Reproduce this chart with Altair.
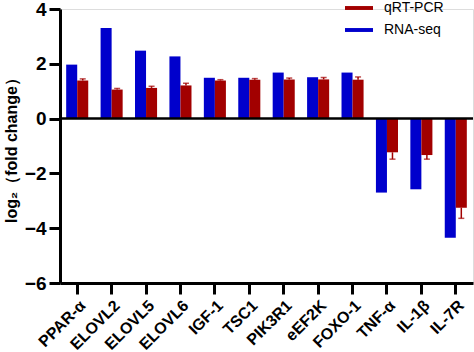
import altair as alt
import pandas as pd

genes = ["PPAR-α", "ELOVL2", "ELOVL5", "ELOVL6", "IGF-1", "TSC1", "PIK3R1",
         "eEF2K", "FOXO-1", "TNF-α", "IL-1β", "IL-7R"]
rnaseq = [1.97, 3.31, 2.48, 2.27, 1.49, 1.49, 1.68, 1.51, 1.68, -2.70, -2.58, -4.35]
qpcr = [1.39, 1.06, 1.12, 1.21, 1.39, 1.42, 1.43, 1.43, 1.42, -1.23, -1.33, -3.25]
qpcr_err = [0.06, 0.04, 0.06, 0.08, 0.03, 0.04, 0.05, 0.07, 0.10, 0.25, 0.15, 0.39]

rows = []
for g, r, q, e in zip(genes, rnaseq, qpcr, qpcr_err):
    rows.append({"gene": g, "method": "RNA-seq", "value": r, "end": r})
    rows.append({"gene": g, "method": "qRT-PCR", "value": q,
                 "end": q + (e if q >= 0 else -e)})
df = pd.DataFrame(rows)
err_df = df[df["method"] == "qRT-PCR"]

BLUE = "#0000CC"
RED = "#A20000"
FONT = "Liberation Sans"

x_enc = alt.X("gene:N", sort=genes,
              scale=alt.Scale(paddingInner=0, paddingOuter=0),
              axis=alt.Axis(title=None, labelAngle=-45, labelFont=FONT,
                            labelFontSize=16, labelFontWeight="bold",
                            labelColor="black", domainColor="black",
                            domainWidth=3, tickColor="black", tickWidth=3,
                            tickSize=11, labelPadding=3))
xoff = alt.XOffset("method:N", sort=["RNA-seq", "qRT-PCR"],
                   scale=alt.Scale(domain=["RNA-seq", "qRT-PCR"],
                                   paddingInner=0, paddingOuter=0.56))
y_scale = alt.Scale(domain=[-6, 4], nice=False)

bars = alt.Chart(df).mark_bar().encode(
    x=x_enc,
    xOffset=xoff,
    y=alt.Y("value:Q", scale=y_scale,
            axis=alt.Axis(title="log₂（fold change）", values=[-6, -4, -2, 0, 2, 4],
                          titleFont=FONT, titleFontSize=16, titleFontWeight="bold",
                          titleColor="black", titlePadding=5,
                          labelFont=FONT, labelFontSize=19, labelFontWeight="bold",
                          labelColor="black", domainColor="black", domainWidth=3,
                          tickColor="black", tickWidth=3, tickSize=11,
                          labelPadding=3, grid=False)),
    y2=alt.datum(0),
    color=alt.Color("method:N",
                    scale=alt.Scale(domain=["qRT-PCR", "RNA-seq"], range=[RED, BLUE]),
                    legend=alt.Legend(title=None, orient="none", legendX=285,
                                      legendY=-15, padding=0,
                                      symbolType="M-1,-0.14H1V0.14H-1Z",
                                      symbolSize=784, symbolStrokeWidth=0,
                                      labelFont=FONT, labelFontSize=14,
                                      labelColor="black", labelOffset=11,
                                      rowPadding=1)),
)

err_rule = alt.Chart(err_df).mark_rule(color=RED, strokeWidth=1.5).encode(
    x=alt.X("gene:N", sort=genes), xOffset=xoff,
    y="value:Q", y2="end:Q")
err_cap = alt.Chart(err_df).mark_tick(color=RED, thickness=1.5, size=6,
                                      orient="horizontal").encode(
    x=alt.X("gene:N", sort=genes), xOffset=xoff, y="end:Q")

zero = alt.Chart(pd.DataFrame({"z": [0]})).mark_rule(
    color="black", strokeWidth=2.5).encode(y=alt.Y("z:Q", scale=y_scale))

chart = alt.layer(bars, err_rule, err_cap, zero).properties(
    width=413, height=274,
    padding={"left": 60, "top": 9, "right": 1, "bottom": 69},
    autosize=alt.AutoSizeParams(type="none"),
).configure_view(stroke=None).configure(background="white")

chart.save("out.html", embed_options={"renderer": "svg", "actions": False})
